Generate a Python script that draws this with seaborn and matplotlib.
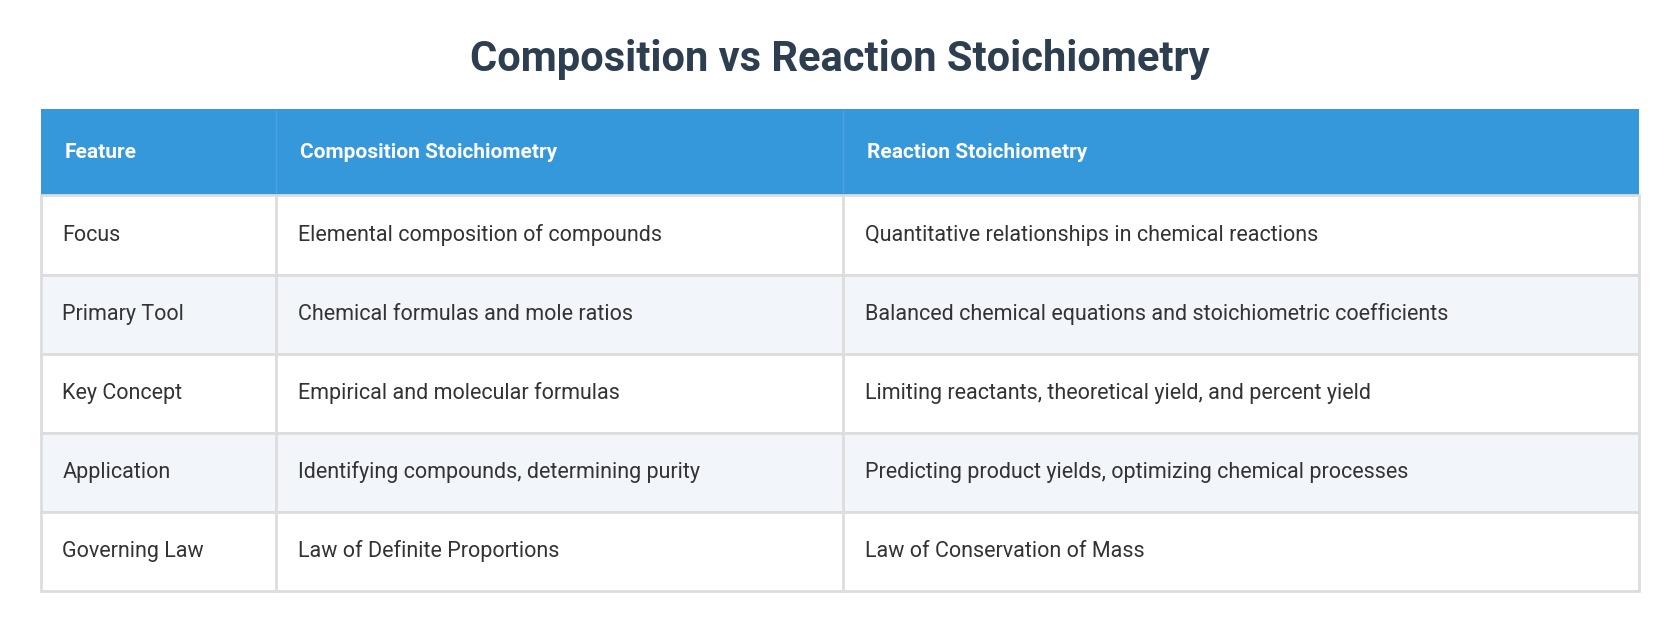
import matplotlib.pyplot as plt
import seaborn as sns
from matplotlib.patches import Rectangle

title = 'Composition vs Reaction Stoichiometry'
headers = ['Feature', 'Composition Stoichiometry', 'Reaction Stoichiometry']
features = ['Focus', 'Primary Tool', 'Key Concept', 'Application', 'Governing Law']
composition = ['Elemental composition of compounds',
               'Chemical formulas and mole ratios',
               'Empirical and molecular formulas',
               'Identifying compounds, determining purity',
               'Law of Definite Proportions']
reaction = ['Quantitative relationships in chemical reactions',
            'Balanced chemical equations and stoichiometric coefficients',
            'Limiting reactants, theoretical yield, and percent yield',
            'Predicting product yields, optimizing chemical processes',
            'Law of Conservation of Mass']

sns.set_theme(style='white')
plt.rcParams['font.family'] = ['Roboto', 'DejaVu Sans']

W, H = 1568, 570
fig = plt.figure(figsize=(16.8, 6.26), dpi=100)
ax = fig.add_axes([0, 0, 1, 1])
ax.set_xlim(0, W)
ax.set_ylim(H, 0)
ax.axis('off')

ax.text(W / 2, 54, title, ha='center', va='center', fontsize=30,
        fontweight='bold', color='#2c3e50')

left, right = 38, 1530
col_x = [left, 258, 787, right]
head_top, head_bot = 99, 178
row_h = 72

ax.add_patch(Rectangle((left, head_top), right - left, head_bot - head_top,
                       facecolor='#3498db', edgecolor='none'))
for j, h in enumerate(headers):
    ax.text(col_x[j] + 22, (head_top + head_bot) / 2, h, ha='left', va='center',
            fontsize=15, fontweight='bold', color='white')
for x in col_x[1:-1]:
    ax.plot([x, x], [head_top, head_bot], color='#4aa3e0', lw=1)

rows = list(zip(features, composition, reaction))
for i, row in enumerate(rows):
    y0 = head_bot + i * row_h
    fc = '#f2f5fa' if i % 2 == 1 else 'white'
    ax.add_patch(Rectangle((left, y0), right - left, row_h,
                           facecolor=fc, edgecolor='#dddddd', lw=2))
    for j, val in enumerate(row):
        ax.text(col_x[j] + 20, y0 + row_h / 2, val, ha='left', va='center',
                fontsize=15.5, color='#333333')
    for x in col_x[1:-1]:
        ax.plot([x, x], [y0, y0 + row_h], color='#dddddd', lw=2)

fig.savefig('out.png', dpi=100, facecolor='white')
